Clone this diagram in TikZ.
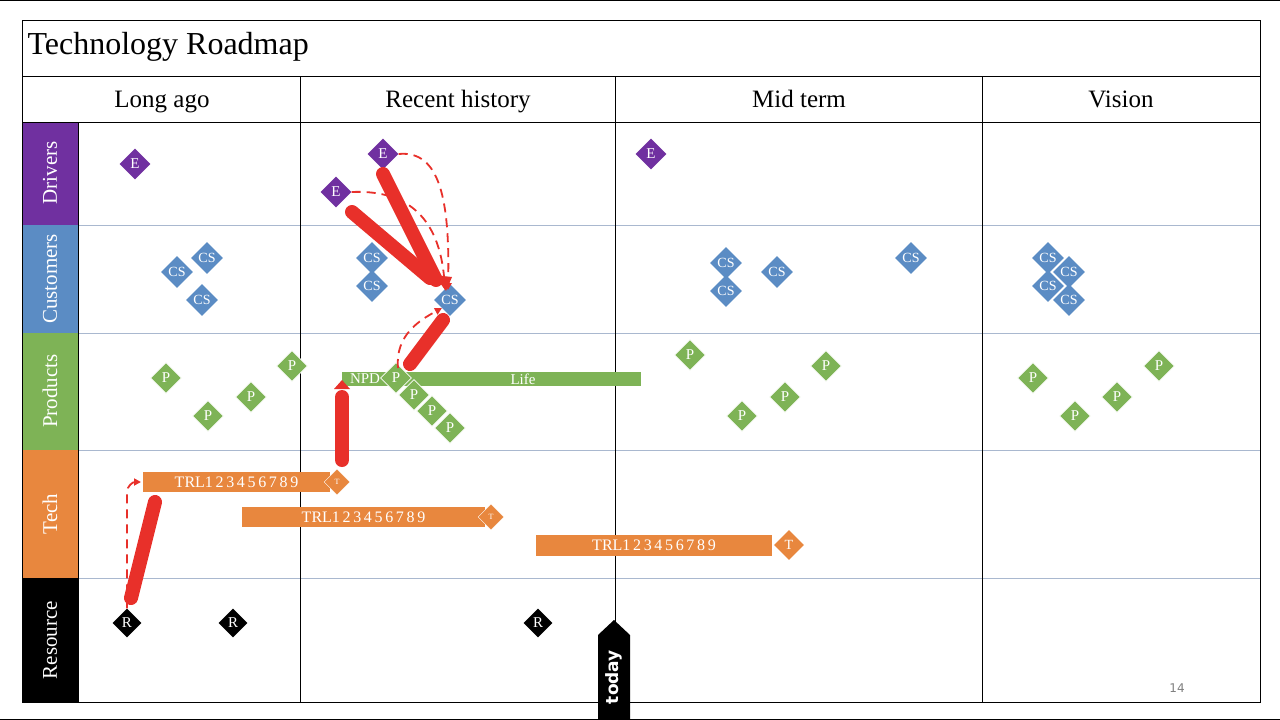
\documentclass[tikz,border=0pt]{standalone}
\usepackage{fontspec}
\setmainfont{Liberation Serif}
\newfontfamily\sansf{DejaVu Sans}
\usetikzlibrary{shapes.geometric,arrows.meta}
\definecolor{cpur}{HTML}{7030A0}
\definecolor{cblu}{HTML}{5B8CC4}
\definecolor{cgrn}{HTML}{7EB356}
\definecolor{corg}{HTML}{E8873E}
\definecolor{cred}{HTML}{E8302A}
\definecolor{csep}{HTML}{A9B8CF}
\begin{document}
\begin{tikzpicture}[x=1pt,y=-1pt,
 dia/.style={diamond,inner sep=0pt,minimum size=31pt,text=white,font=\fontsize{15}{15}\selectfont},
 E/.style={dia,fill=cpur},
 CS/.style={dia,fill=cblu,minimum size=32pt,font=\fontsize{14}{14}\selectfont},
 P/.style={dia,fill=cgrn,draw=white,line width=0.6pt},
 R/.style={dia,fill=black,minimum size=29pt},
 T/.style={dia,fill=corg,minimum size=26pt,font=\fontsize{8}{8}\selectfont},
 bar/.style={fill=corg,text=white,font=\fontsize{16}{16}\selectfont},
 big/.style={cred,line width=14pt,line cap=round},
 dsh/.style={cred,line width=1.8pt,dash pattern=on 9pt off 6pt,-{Triangle[length=7pt,width=7pt]}},
 rowlab/.style={text=white,rotate=90,font=\fontsize{21}{21}\selectfont},
 head/.style={anchor=base,font=\fontsize{25}{25}\selectfont}]
\useasboundingbox (0,0) rectangle (1280,720);
\fill[white] (0,0) rectangle (1280,720);
\draw[line width=1.5pt] (0,0.7)--(1280,0.7);
\draw[line width=1.5pt] (0,719.3)--(1280,719.3);
% rows labels
\fill[cpur] (22,122) rectangle (78,225);
\fill[cblu] (22,225) rectangle (78,333);
\fill[cgrn] (22,333) rectangle (78,450);
\fill[corg] (22,450) rectangle (78,578);
\fill[black] (22,578) rectangle (78,702);
\node[rowlab] (ld) at (50,173) {Drivers};
\node[rowlab] (lc) at (50,279) {Customers};
\node[rowlab] (lp) at (50,391) {Products};
\node[rowlab] (lt) at (50,514) {Tech};
\node[rowlab] (lr) at (50,640) {Resource};
\foreach \y in {225,333,450,578} \draw[csep,line width=0.8pt] (78,\y)--(1260,\y);
\draw[csep,line width=0.8pt] (22,702)--(1260,702);
\draw[line width=0.6pt] (22,20) rectangle (1260,702);
\draw[line width=0.6pt] (22,76)--(1260,76);
\draw[line width=0.6pt] (22,122)--(1260,122);
\foreach \x in {300,615,982} \draw[line width=0.6pt] (\x,76)--(\x,702);
\draw[line width=0.6pt] (78,122)--(78,702);
\node[anchor=west,font=\fontsize{32}{32}\selectfont] (title) at (24,47) {Technology Roadmap};
\node[head] (h1) at (162,107) {Long ago};
\node[head] (h2) at (458,107) {Recent history};
\node[head] (h3) at (799,107) {Mid term};
\node[head] (h4) at (1121,107) {Vision};
% bars
\fill[cgrn] (342,372) rectangle (641,386);
\node[text=white,font=\fontsize{15}{15}\selectfont] (npd) at (365,379) {NPD};
\node[text=white,font=\fontsize{15}{15}\selectfont] (life) at (523,379) {Life};
\node[bar,minimum width=187pt,minimum height=20pt,inner sep=0pt] (b1) at (236.5,482) {TRL1\,2\,3\,4\,5\,6\,7\,8\,9};
\node[bar,minimum width=243pt,minimum height=20pt,inner sep=0pt] (b2) at (363.5,517) {TRL1\,2\,3\,4\,5\,6\,7\,8\,9};
\node[bar,minimum width=236pt,minimum height=21pt,inner sep=0pt] (b3) at (654,545.5) {TRL1\,2\,3\,4\,5\,6\,7\,8\,9};
\node[T,draw=white] (t1) at (337,482) {T};
\node[T,draw=white] (t2) at (491,517) {T};
\node[T,minimum size=30pt,font=\fontsize{14}{14}\selectfont] (t3) at (789,545) {T};
% drivers
\node[E] (e1) at (135,164) {E};
\node[E] (e2) at (383,154) {E};
\node[E] (e3) at (336,192) {E};
\node[E] (e4) at (651,154) {E};
% customers
\foreach \n/\x/\y in {c1/177/272,c2/207/258,c3/202/300,c4/372/258,c5/372/286,c6/450/300,c7/726/263,c8/726/291,c9/777/272,c10/911/258,c11/1048/258,c12/1069/272,c13/1048/286,c14/1069/300}
  \node[CS] (\n) at (\x,\y) {CS};
% products
\foreach \n/\x/\y in {p1/166/378,p2/292/366,p3/251/397,p4/208/416,p5/396/378,p6/414/395,p7/432/411,p8/450/428,p9/690/355,p10/826/366,p11/785/397,p12/742/416,p13/1033/378,p14/1159/366,p15/1117/397,p16/1075/416}
  \node[P] (\n) at (\x,\y) {P};
% resources
\node[R] (r1) at (127,623) {R};
\node[R] (r2) at (233,623) {R};
\node[R] (r3) at (538,623) {R};
% red
\coordinate (a4) at (141,482);
\coordinate (a5) at (398,368);
\draw[dsh] (e2.east) .. controls (440,150) and (450,200) .. (448,290);
\draw[dsh] (e3.east) .. controls (400,190) and (440,210) .. (445,290);
\draw[dsh] (a5) .. controls (395,335) and (420,320) .. (c6.south west);
\draw[dsh] (r1.north) -- (127,492) .. controls (127,486) and (133,482) .. (a4);
\draw[big] (383,174) -- (436,280);
\draw[big] (352,212) -- (430,278);
\draw[big] (443,320) -- (410,364);
\draw[big] (342,397) -- (342,460);
\draw[big] (155,502) -- (131,598);
\fill[cred] (446,291)--(452,277)--(434,275)--cycle;
\fill[cred] (334,389)--(342,380)--(350,389)--cycle;
% today
\fill[black] (598,720)--(598,635)--(614,620)--(630,635)--(630,720)--cycle;
\node[rotate=90,text=white,font=\sansf\bfseries\fontsize{17}{17}\selectfont] (today) at (614,677) {today};
\node[text=gray,font=\sansf\fontsize{12}{12}\selectfont] (pg) at (1177,688) {14};
\end{tikzpicture}
\end{document}
